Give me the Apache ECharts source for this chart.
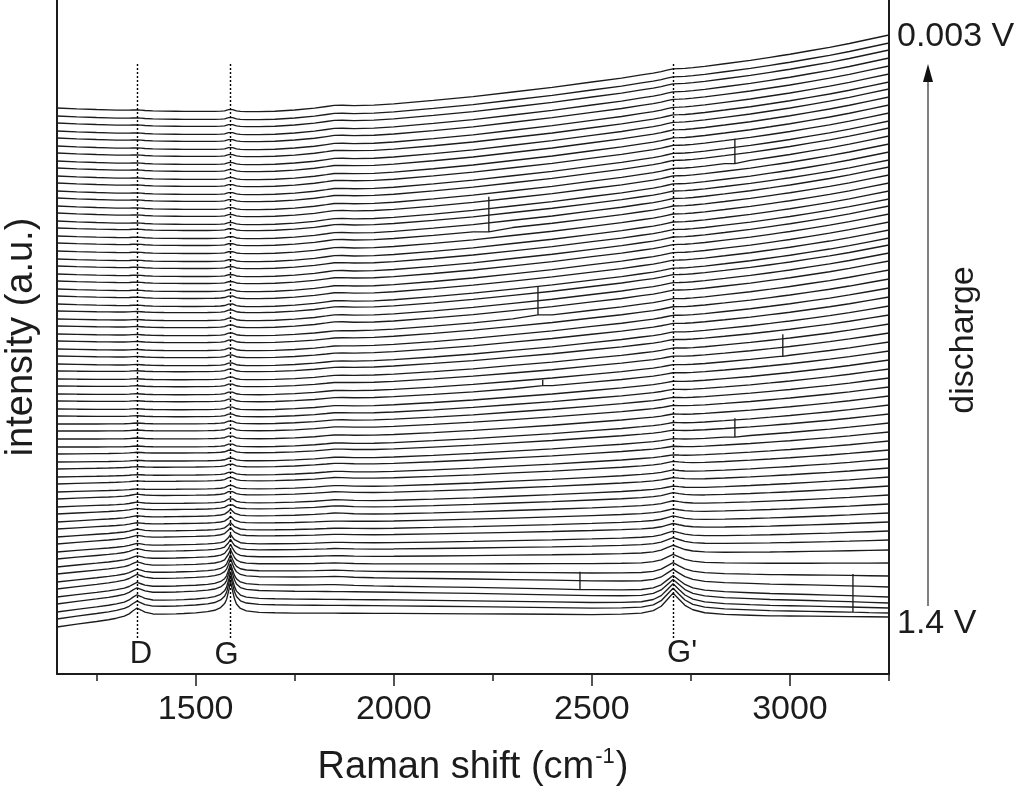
<!DOCTYPE html>
<html>
<head>
<meta charset="utf-8">
<title>Raman spectra during discharge</title>
<script src="https://cdn.jsdelivr.net/npm/echarts@6.0.0/dist/echarts.min.js"></script>
<style>
  html, body { margin: 0; padding: 0; background: #fff; }
  #chart { width: 1020px; height: 790px; }
</style>
</head>
<body>
<div id="chart"></div>
<script>
// shared Raman shift grid (cm-1)
const ramanShift = [1150, 1200, 1250, 1280, 1300, 1320, 1332, 1342, 1352, 1362, 1372, 1392, 1420, 1450, 1470,
  1500, 1530, 1548, 1563, 1573, 1578, 1583, 1588, 1593, 1598, 1603, 1613, 1628, 1660, 1700,
  1750, 1800, 1830, 1850, 1870, 1900, 1950, 2000, 2100, 2200, 2300, 2400, 2500, 2575, 2625,
  2655, 2675, 2690, 2705, 2720, 2735, 2755, 2785, 2835, 2900, 2950, 2975, 3000, 3050, 3100,
  3150, 3200, 3250];

// spectral components, one value per grid point
const rampShape = [0, .2, .38, .48, .55, .61, .65, .68, .71, .73, .75, .78, .82, .85, .87,
  .89, .91, .92, .93, .94, .94, .95, .95, .95, .96, .96, .96, .97, .98, 1,
  1, 1, 1, 1, 1, 1, 1, 1, 1, 1, 1, 1, 1, 1, 1,
  1, 1, 1, 1, 1, 1, 1, 1, 1, 1, 1, 1, 1, 1, 1,
  1, 1, 1];
const riseShape = [0, 0, 0, 0, 0, 0, 0, 0, 0, 0, 0, 0, 0, 0, 0,
  0, 0, 0, 0, 0, 0, 0, 0, 0, 0, 0, 0, 0, .003, .008,
  .018, .03, .04, .047, .055, .066, .085, .105, .15, .2, .26, .32, .39, .44, .48,
  .5, .515, .525, .535, .545, .555, .57, .59, .625, .67, .71, .73, .75, .795, .84,
  .89, .945, 1];
const dShape = [0, 0, .02, .06, .12, .25, .45, .75, 1, .75, .48, .2, .08, .03, 0,
  0, 0, 0, 0, 0, 0, 0, 0, 0, 0, 0, 0, 0, 0, 0,
  0, 0, 0, 0, 0, 0, 0, 0, 0, 0, 0, 0, 0, 0, 0,
  0, 0, 0, 0, 0, 0, 0, 0, 0, 0, 0, 0, 0, 0, 0,
  0, 0, 0];
const gShape = [0, 0, 0, 0, 0, 0, 0, 0, 0, 0, 0, .01, .02, .03, .04,
  .05, .08, .12, .2, .32, .45, .7, 1, .72, .46, .3, .16, .08, .03, .01,
  0, 0, 0, 0, 0, 0, 0, 0, 0, 0, 0, 0, 0, 0, 0,
  0, 0, 0, 0, 0, 0, 0, 0, 0, 0, 0, 0, 0, 0, 0,
  0, 0, 0];
const g2Shape = [0, 0, 0, 0, 0, 0, 0, 0, 0, 0, 0, 0, 0, 0, 0,
  0, 0, 0, 0, 0, 0, 0, 0, 0, 0, 0, 0, 0, 0, 0,
  0, 0, 0, 0, 0, 0, 0, 0, 0, 0, 0, 0, 0, .03, .08,
  .2, .4, .7, 1, .72, .45, .25, .12, .05, .02, 0, 0, 0, 0, 0,
  0, 0, 0];
const bumpShape = [0, 0, 0, 0, 0, 0, 0, 0, 0, 0, 0, 0, 0, 0, 0,
  0, 0, 0, 0, 0, 0, 0, 0, 0, 0, 0, 0, 0, 0, .05,
  .2, .5, .8, 1, .85, .45, .1, 0, 0, 0, 0, 0, 0, 0, 0,
  0, 0, 0, 0, 0, 0, 0, 0, 0, 0, 0, 0, 0, 0, 0,
  0, 0, 0];

// per spectrum, bottom (1.4 V) to top (0.003 V)
const leftLevel = [47, 55, 62, 70, 77, 85, 92, 100, 107, 115,
  122, 130, 137, 145, 152, 160, 167, 175, 182, 190,
  197, 205, 212, 220, 227, 235, 243, 250, 258, 265,
  273, 280, 288, 295, 303, 310, 318, 325, 333, 340,
  348, 355, 363, 370, 378, 385, 393, 400, 408, 415,
  423, 431, 438, 446, 453, 461, 468, 476, 483, 491,
  498, 506, 513, 521, 528, 536, 543, 551, 558, 566];
const rightLevel = [57, 61, 66, 71, 77, 87, 98, 111, 124, 134,
  143, 152, 161, 170, 179, 188, 197, 206, 215, 224,
  233, 242, 251, 260, 269, 278, 287, 296, 305, 314,
  323, 332, 341, 350, 359, 368, 377, 386, 395, 404,
  413, 421, 429, 436, 444, 452, 460, 468, 475, 483,
  491, 499, 507, 514, 522, 530, 538, 546, 553, 561,
  569, 577, 585, 592, 600, 608, 616, 624, 631, 639];
const rampAmp = [14, 14, 13, 13, 12, 12, 11, 10, 10, 9,
  8, 8, 7, 6, 6, 5, 4, 4, 3, 3,
  2, 2, 1, 1, 0, 0, 0, 0, -1, -1,
  -1, -1, -1, -1, -1, -2, -2, -2, -2, -2,
  -2, -2, -2, -3, -3, -3, -3, -3, -3, -3,
  -3, -3, -3, -3, -4, -4, -4, -4, -4, -4,
  -4, -4, -4, -4, -4, -4, -4, -4, -4, -4];
const gAmp = [32, 30, 28, 25, 22, 19, 17, 15, 13, 11,
  10, 9, 8, 7, 7, 6, 6, 5, 5, 5,
  4, 4, 4, 4, 4, 4, 4, 4, 4, 4,
  4, 4, 4, 4, 4, 4, 4, 4, 4, 4,
  4, 4, 4, 4, 4, 3, 3, 3, 3, 3,
  3, 3, 3, 3, 3, 3, 3, 3, 3, 3,
  3, 3, 3, 3, 3, 3, 3, 3, 3, 3];
const dAmp = [9, 8, 8, 7, 6, 6, 5, 5, 4, 4,
  3, 3, 3, 2, 2, 2, 2, 2, 1, 1,
  1, 1, 1, 1, 1, 1, 1, 1, 1, 1,
  1, 1, 1, 1, 1, 1, 1, 1, 1, 1,
  1, 1, 1, 1, 1, 1, 1, 1, 1, 1,
  1, 1, 1, 1, 1, 1, 1, 1, 1, 1,
  1, 1, 1, 1, 1, 1, 1, 1, 1, 1];
const g2Amp = [22, 21, 20, 18, 16, 13, 11, 9, 8, 7,
  6, 5, 5, 4, 4, 4, 3, 3, 3, 3,
  2, 2, 2, 2, 2, 2, 2, 2, 2, 2,
  2, 2, 2, 2, 2, 2, 2, 2, 2, 2,
  2, 2, 2, 2, 2, 2, 2, 2, 2, 2,
  2, 2, 2, 2, 2, 2, 2, 2, 2, 2,
  2, 2, 2, 2, 2, 2, 2, 2, 2, 2];
const bumpAmp = [0, 0, 0, 0, 1, 1, 1, 1, 1, 1,
  1, 1, 1, 1, 2, 2, 2, 2, 2, 2,
  2, 2, 2, 2, 2, 2, 2, 2, 2, 2,
  2, 2, 2, 2, 2, 2, 2, 2, 2, 2,
  3, 3, 3, 3, 3, 3, 3, 3, 3, 3,
  3, 3, 3, 3, 3, 3, 3, 3, 3, 3,
  3, 3, 3, 3, 3, 3, 3, 3, 3, 3];

// cosmic-ray spikes
const spikeShift = [2240, 2364, 2376, 2470, 2861, 2861, 2982, 3159];
const spikeBase = [444, 356, 290, 86, 509, 237, 319, 63];
const spikeHeight = [35, 28, 6, 18, 25, 19, 22, 38];

// band positions
const bandNames = ['D', 'G', "G'"];
const bandShift = [1352, 1588, 2705];
const bandLabelOffset = [[4, -3], [-4, -2], [9, -4]];

const majorTicks = [1500, 2000, 2500, 3000];
const minorTicks = [1250, 1750, 2250, 2750, 3250];

const FONT = 'Liberation Sans, Arial, Helvetica, sans-serif';
const INK = '#1c1c1c';

const curves = leftLevel.map((left, i) => {
  const rise = rightLevel[i] - left - rampAmp[i];
  return ramanShift.map((x, k) => [x,
    left + rampAmp[i] * rampShape[k] + rise * riseShape[k] +
    dAmp[i] * dShape[k] + gAmp[i] * gShape[k] + g2Amp[i] * g2Shape[k] + bumpAmp[i] * bumpShape[k]]);
});

// attach each spike to the spectrum it sits on
spikeShift.forEach((s, n) => {
  let k = 0;
  ramanShift.forEach((x, j) => { if (Math.abs(x - s) < Math.abs(ramanShift[k] - s)) k = j; });
  let best = 0;
  curves.forEach((c, i) => {
    if (Math.abs(c[k][1] - spikeBase[n]) < Math.abs(curves[best][k][1] - spikeBase[n])) best = i;
  });
  const c = curves[best];
  const v = c[k][1];
  const pos = c.findIndex(p => p[0] > s);
  c.splice(pos, 0, [s, v], [s, v + spikeHeight[n]], [s, v]);
});

const last = curves.length - 1;
const series = curves.map((data, i) => {
  const s = {
    type: 'line',
    data: data,
    symbol: 'none',
    silent: true,
    lineStyle: { color: INK, width: 1.35 },
    z: 3
  };
  if (i === 0 || i === last) {
    s.endLabel = {
      show: true,
      formatter: i === 0 ? '1.4 V' : '0.003 V',
      distance: 8,
      offset: i === 0 ? [0, 7] : [0, 2],
      fontSize: 34,
      fontFamily: FONT,
      color: INK
    };
  }
  if (i === 0) {
    s.markLine = {
      silent: true,
      symbol: ['none', 'none'],
      lineStyle: { color: '#000', width: 1.4, type: [2, 2] },
      label: { show: true, position: 'end', distance: 2, fontSize: 31, fontFamily: FONT, color: INK },
      data: bandShift.map((b, j) => [
        { coord: [b, 610] },
        { coord: [b, 34], label: { formatter: bandNames[j], offset: bandLabelOffset[j] } }
      ])
    };
  }
  return s;
});

const chart = echarts.init(document.getElementById('chart'));
chart.setOption({
  animation: false,
  backgroundColor: '#fff',
  grid: { left: 57, right: 131, top: 0, bottom: 116, outerBoundsMode: 'none' },
  xAxis: [
    {
      type: 'value', min: 1150, max: 3250, position: 'bottom',
      axisLine: { show: true, lineStyle: { color: INK, width: 2 } },
      axisTick: { show: true, length: 12, customValues: majorTicks, lineStyle: { color: INK, width: 1.5 } },
      axisLabel: {
        customValues: majorTicks, fontSize: 34, fontFamily: FONT, color: INK, margin: 19,
        formatter: v => String(v)
      },
      splitLine: { show: false },
      name: '{t|Raman shift (cm}{s|-1}{t|)}',
      nameLocation: 'middle',
      nameGap: 72,
      nameTextStyle: {
        rich: {
          t: { fontSize: 38, fontFamily: FONT, color: INK, lineHeight: 44 },
          s: { fontSize: 22, fontFamily: FONT, color: INK, lineHeight: 44, verticalAlign: 'top', padding: [0, 1, 0, 1] }
        }
      }
    },
    {
      type: 'value', min: 1150, max: 3250, position: 'bottom',
      axisLine: { show: false },
      axisTick: { show: true, length: 7, customValues: minorTicks, lineStyle: { color: INK, width: 1.5 } },
      axisLabel: { show: false },
      splitLine: { show: false }
    }
  ],
  yAxis: [
    {
      type: 'value', min: 0, max: 674, position: 'left',
      axisLine: { show: true, lineStyle: { color: INK, width: 2 } },
      axisTick: { show: false },
      axisLabel: { show: false },
      splitLine: { show: false },
      name: 'intensity (a.u.)',
      nameLocation: 'middle',
      nameGap: 16,
      nameTextStyle: { fontSize: 38, fontFamily: FONT, color: INK }
    },
    {
      type: 'value', min: 0, max: 674, position: 'right',
      axisLine: { show: true, lineStyle: { color: INK, width: 2 } },
      axisTick: { show: false },
      axisLabel: { show: false },
      splitLine: { show: false }
    }
  ],
  graphic: [
    { type: 'line', shape: { x1: 928, y1: 606, x2: 928, y2: 80 }, style: { stroke: '#555', lineWidth: 1.5 } },
    { type: 'polygon', shape: { points: [[928, 64], [923, 82], [933, 82]] }, style: { fill: '#111' } },
    {
      type: 'text', x: 964, y: 340, rotation: Math.PI / 2,
      style: { text: 'discharge', fontSize: 34, fontFamily: FONT, fill: INK, align: 'center', verticalAlign: 'middle' }
    }
  ],
  series: series
});
</script>
</body>
</html>
